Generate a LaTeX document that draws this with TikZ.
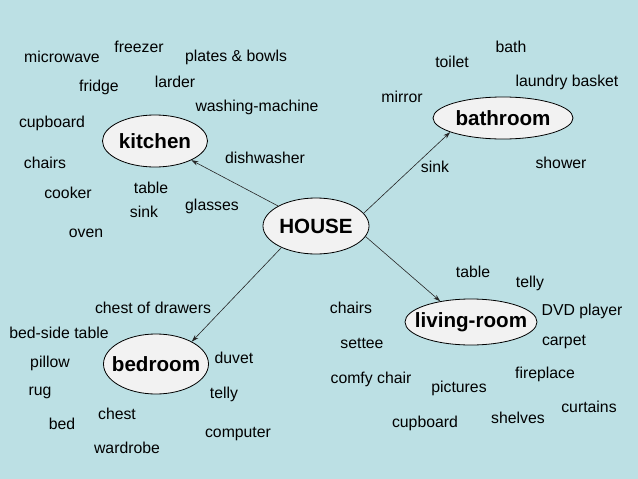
\documentclass[tikz,border=0pt]{standalone}
\usepackage{fontspec}
\setmainfont{Liberation Sans}
\usetikzlibrary{shapes.geometric,arrows.meta}
\definecolor{bgblue}{RGB}{188,224,228}
\definecolor{ovalfill}{RGB}{242,242,242}
\tikzset{
  word/.style={inner sep=0pt, font=\fontsize{15.8}{18}\selectfont},
  room/.style={ellipse, draw=black, line width=0.8pt, fill=ovalfill, inner sep=0pt,
    font=\fontsize{20.6}{24}\selectfont\bfseries},
  conn/.style={-{Stealth[length=7pt,width=4.5pt]}, line width=0.6pt, draw=black!85}
}
\begin{document}
\begin{tikzpicture}[x=1pt,y=-1pt]
\fill[bgblue] (0,0) rectangle (638,479);
\useasboundingbox (0,0) rectangle (638,479);

% rooms
\node[room, minimum width=106, minimum height=56] (house) at (316,226) {\makebox[0pt]{HOUSE}};
\node[room, minimum width=105, minimum height=52] (kitchen) at (155,141) {\makebox[0pt]{kitchen}};
\node[room, minimum width=140, minimum height=42] (bathroom) at (503,118) {\makebox[0pt]{bathroom}};
\node[room, minimum width=132, minimum height=46] (living) at (471,322) {\makebox[0pt]{living-room}};
\node[room, minimum width=105, minimum height=60] (bedroom) at (156,364) {\makebox[0pt]{bedroom}};

% connectors
\draw[conn] (house) -- (kitchen);
\draw[conn] (house.15) -- (bathroom.195);
\draw[conn] (house.-12) -- (living.146);
\draw[conn] (house.212) -- (bedroom.32);

% kitchen words
\node[word] (k1) at (62,57) {microwave};
\node[word] (k2) at (139,47) {freezer};
\node[word] (k3) at (236,57) {plates \& bowls};
\node[word] (k4) at (99,87) {fridge};
\node[word] (k5) at (175,82) {larder};
\node[word] (k6) at (257,107) {washing-machine};
\node[word] (k7) at (52,123) {cupboard};
\node[word] (k8) at (45,163) {chairs};
\node[word] (k9) at (265,158) {dishwasher};
\node[word] (k10) at (68,193) {cooker};
\node[word] (k11) at (151,188) {table};
\node[word] (k12) at (144,212) {sink};
\node[word] (k13) at (212,206) {glasses};
\node[word] (k14) at (86,233) {oven};

% bathroom words
\node[word] (b1) at (511,47) {bath};
\node[word] (b2) at (452,62) {toilet};
\node[word] (b3) at (567,82) {laundry basket};
\node[word] (b4) at (402,97) {mirror};
\node[word] (b5) at (435,167) {sink};
\node[word] (b6) at (561,163) {shower};

% living-room words
\node[word] (l1) at (473,272) {table};
\node[word] (l2) at (530,283) {telly};
\node[word] (l3) at (351,308) {chairs};
\node[word] (l4) at (582,311) {DVD player};
\node[word] (l5) at (362,343) {settee};
\node[word] (l6) at (564,342) {carpet};
\node[word] (l7) at (371,379) {comfy chair};
\node[word] (l8) at (459,388) {pictures};
\node[word] (l9) at (545,374) {fireplace};
\node[word] (l10) at (589,407) {curtains};
\node[word] (l11) at (425,423) {cupboard};
\node[word] (l12) at (518,418) {shelves};

% bedroom words
\node[word] (d1) at (153,308) {chest of drawers};
\node[word] (d2) at (59,333) {bed-side table};
\node[word] (d3) at (50,363) {pillow};
\node[word] (d4) at (234,358) {duvet};
\node[word] (d5) at (40,393) {rug};
\node[word] (d6) at (224,394) {telly};
\node[word] (d7) at (117,414) {chest};
\node[word] (d8) at (62,424) {bed};
\node[word] (d9) at (238,434) {computer};
\node[word] (d10) at (127,448) {wardrobe};
\end{tikzpicture}
\end{document}
